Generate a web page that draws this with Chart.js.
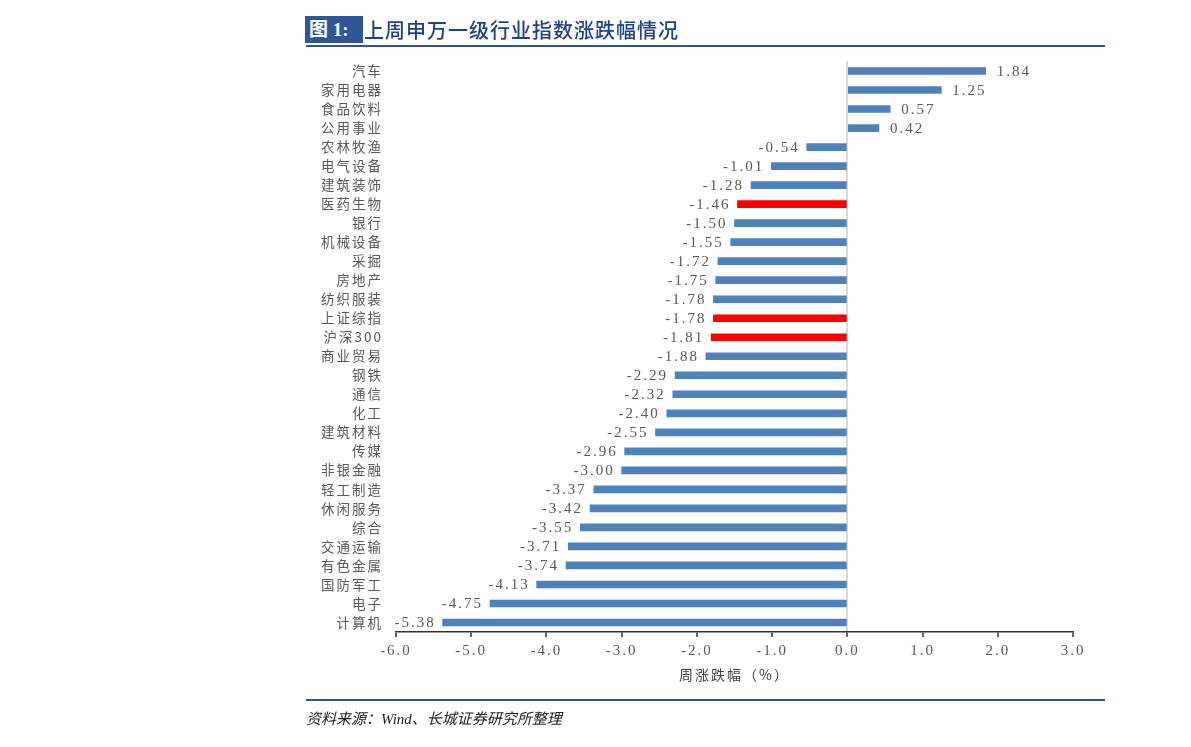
<!DOCTYPE html>
<html>
<head>
<meta charset="utf-8">
<script src="https://cdn.jsdelivr.net/npm/chart.js@4"></script>
<style>
  html, body { margin: 0; padding: 0; background: #fff; }
  #wrap { position: absolute; left: 0; top: 0; width: 1191px; height: 747px; }
  .head { position: absolute; left: 305px; top: 16px; height: 28px; font-family: "Noto Sans CJK SC", serif; }
  .head .tag { position: absolute; left: 0; top: 0; width: 58px; height: 27px; background: #2f5597; color: #fff;
               font: bold 19px "Liberation Serif", "Noto Sans CJK SC"; line-height: 27px; text-indent: 4px; }
  .head .txt { position: absolute; left: 59px; top: 0; white-space: nowrap; color: #1f3f8f;
               font: 500 20px "Noto Sans CJK SC"; line-height: 27px; letter-spacing: 1px; }
  .rule { position: absolute; left: 306px; width: 799px; height: 2px; background: #2f5597; }
  .src { position: absolute; left: 306px; top: 707px; font: italic 15px "Liberation Serif", "Noto Sans CJK SC"; color: #222; }
</style>
</head>
<body>
<div id="wrap"><canvas id="c"></canvas></div>
<div class="head"><div class="tag">图 1:</div><div class="txt">上周申万一级行业指数涨跌幅情况</div></div>
<div class="rule" style="top:45px"></div>
<div class="rule" style="top:699px"></div>
<div class="src">资料来源：Wind、长城证券研究所整理</div>
<script>
// 行业分类（自上而下）
const industries = ['汽车', '家用电器', '食品饮料', '公用事业', '农林牧渔', '电气设备', '建筑装饰', '医药生物',
  '银行', '机械设备', '采掘', '房地产', '纺织服装', '上证综指', '沪深300', '商业贸易', '钢铁', '通信', '化工',
  '建筑材料', '传媒', '非银金融', '轻工制造', '休闲服务', '综合', '交通运输', '有色金属', '国防军工', '电子', '计算机'];
const weeklyChange = [1.84, 1.25, 0.57, 0.42, -0.54, -1.01, -1.28, -1.46, -1.50, -1.55, -1.72, -1.75, -1.78, -1.78,
  -1.81, -1.88, -2.29, -2.32, -2.40, -2.55, -2.96, -3.00, -3.37, -3.42, -3.55, -3.71, -3.74, -4.13, -4.75, -5.38];
// 指数/重点行业标红
const highlighted = ['医药生物', '上证综指', '沪深300'];
const xTicks = [-6, -5, -4, -3, -2, -1, 0, 1, 2, 3];

const blue = '#4f81bd';
const red = '#ff0000';
const grey = '#595959';

const spacing = {
  id: 'spacing',
  beforeDraw(chart) { chart.ctx.letterSpacing = '2px'; }
};

const valueLabels = {
  id: 'valueLabels',
  afterDatasetsDraw(chart) {
    const ctx = chart.ctx;
    const meta = chart.getDatasetMeta(0);
    ctx.save();
    ctx.letterSpacing = '2px';
    ctx.font = '15px "Liberation Serif"';
    ctx.fillStyle = grey;
    ctx.textBaseline = 'middle';
    meta.data.forEach((bar, i) => {
      const v = weeklyChange[i];
      const txt = v.toFixed(2);
      if (v >= 0) {
        ctx.textAlign = 'left';
        ctx.fillText(txt, bar.x + 11, bar.y + 1);
      } else {
        ctx.textAlign = 'right';
        ctx.fillText(txt, bar.x - 7, bar.y + 1);
      }
    });
    ctx.restore();
  }
};

new Chart(document.getElementById('c'), {
  type: 'bar',
  data: {
    labels: industries,
    datasets: [{
      data: weeklyChange,
      backgroundColor: industries.map(n => highlighted.includes(n) ? red : blue),
      barThickness: 7,
      borderWidth: 0
    }]
  },
  options: {
    indexAxis: 'y',
    responsive: true,
    maintainAspectRatio: false,
    animation: false,
    layout: { padding: { top: 61.5, right: 118, bottom: 0, left: 0 } },
    plugins: { legend: { display: false }, tooltip: { enabled: false } },
    scales: {
      x: {
        min: -6,
        max: 3,
        afterBuildTicks: s => { s.ticks = xTicks.map(v => ({ value: v })); },
        afterFit: s => { s.height = 115; },
        ticks: {
          callback: v => Number(v).toFixed(1),
          color: grey,
          font: { family: '"Liberation Serif"', size: 15 },
          padding: 5,
          maxRotation: 0
        },
        grid: {
          color: c => (c.tick && c.tick.value === 0) ? '#d9d9d9' : 'rgba(0,0,0,0)',
          lineWidth: 2,
          tickColor: '#333',
          tickLength: 5,
          tickWidth: 1.5
        },
        border: { display: true, color: '#333', width: 1.5 },
        title: {
          display: true,
          text: '周涨跌幅（%）',
          color: '#404040',
          font: { family: '"Noto Sans CJK SC"', size: 14 },
          padding: { top: 0, bottom: 64 }
        }
      },
      y: {
        afterFit: s => { s.width = 396; },
        ticks: {
          color: grey,
          font: { family: '"Noto Sans CJK SC"', size: 13.5 },
          padding: 5,
          autoSkip: false
        },
        grid: { display: false },
        border: { display: false }
      }
    }
  },
  plugins: [spacing, valueLabels]
});
</script>
</body>
</html>
